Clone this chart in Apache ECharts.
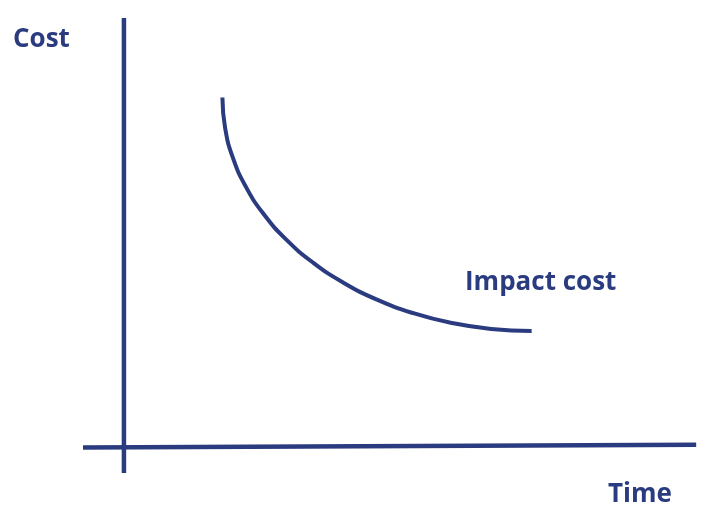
<!DOCTYPE html>
<html>
<head>
<meta charset="utf-8">
<script src="https://cdn.jsdelivr.net/npm/echarts@6/dist/echarts.min.js"></script>
<style>
html,body{margin:0;padding:0;background:#fff;}
#chart{width:705px;height:519px;}
</style>
</head>
<body>
<div id="chart"></div>
<script>
// Impact cost curve (time, cost) in arbitrary units
var curveTime = [2.406, 2.472, 2.663, 2.980, 3.418, 3.967, 4.620, 5.362, 6.183, 7.070, 8.006, 8.973, 9.960];
var curveCost = [13.436, 12.260, 11.107, 9.990, 8.933, 7.958, 7.072, 6.297, 5.642, 5.121, 4.743, 4.512, 4.435];
// hand-drawn axis lines
var timeAxisLine = [[-1, -0.06], [13.98, 0.05]];
var costAxisLine = [[0, 16.5], [0, -1.04]];
// texts
var costLabel = 'Cost';
var timeLabel = 'Time';
var seriesLabel = 'Impact cost';

var color = '#2a3b7f';
var curve = curveTime.map(function (t, i) { return [t, curveCost[i]]; });

var chart = echarts.init(document.getElementById('chart'));
var font = '"Open Sans", Lato, sans-serif';
chart.setOption({
  animation: false,
  grid: { left: 83, right: 8, top: 18, bottom: 47 },
  xAxis: { type: 'value', min: -1, max: 14, show: false },
  yAxis: { type: 'value', min: -1, max: 16.5, show: false },
  series: [
    { type: 'line', data: timeAxisLine, symbol: 'none',
      lineStyle: { color: color, width: 4.5, cap: 'butt' } },
    { type: 'line', data: costAxisLine, symbol: 'none',
      lineStyle: { color: color, width: 4.5, cap: 'butt' } },
    { type: 'custom', name: seriesLabel, data: curve, clip: false,
      renderItem: function (params, api) {
        if (params.dataIndex !== 0) return null;
        var pts = curve.map(function (p) { return api.coord(p); });
        return {
          type: 'polyline',
          shape: { points: pts, smooth: 0.5 },
          style: { stroke: color, lineWidth: 4, fill: null, lineCap: 'butt', lineJoin: 'round' }
        };
      } }
  ],
  graphic: [
    { type: 'text', left: 13, top: 27, style: { text: costLabel, fill: color, font: 'bold 26px ' + font } },
    { type: 'text', left: 608, top: 482, style: { text: timeLabel, fill: color, font: 'bold 26px ' + font } },
    { type: 'text', left: 465, top: 270, style: { text: seriesLabel, fill: color, font: 'bold 26px ' + font } }
  ]
});
</script>
</body>
</html>
